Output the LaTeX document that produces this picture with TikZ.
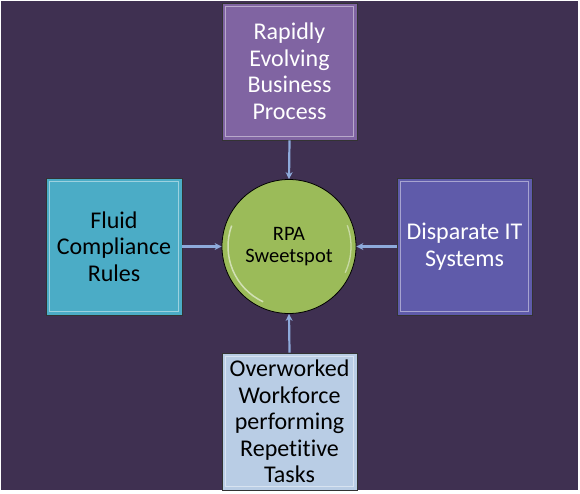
\documentclass[tikz,border=0pt]{standalone}
\usepackage{fontspec}
\setmainfont{Carlito}[Ligatures={NoCommon}]
\usetikzlibrary{arrows.meta}
\definecolor{bgc}{HTML}{3F3051}
\definecolor{topc}{HTML}{8064A2}
\definecolor{leftc}{HTML}{4BACC6}
\definecolor{rightc}{HTML}{5F5BAA}
\definecolor{botc}{HTML}{B9CDE5}
\definecolor{circc}{HTML}{9BBB59}
\definecolor{arrc}{HTML}{8EAADB}
\tikzset{
  box/.style={draw=black!80, line width=0.8pt, minimum width=135pt, minimum height=137pt,
    inner sep=2pt, align=center, font=\fontsize{24}{26.5}\selectfont},
  bevel/.style={draw=white, opacity=0.45, line width=1.6pt},
  hub/.style={circle, draw=black, line width=0.8pt, minimum size=134pt, fill=circc,
    align=center, font=\fontsize{20.5}{22}\selectfont},
  arr/.style={draw=arrc, line width=2.2pt, -{Stealth[length=7pt,width=7pt]}},
}
\begin{document}
\begin{tikzpicture}[x=1pt,y=-1pt]
\useasboundingbox (0,0) rectangle (580,493);
\fill[white] (0,0) rectangle (580,493);
\fill[bgc] (1,1) rectangle (578,490);
\node[box, fill=topc, text=white] (t) at (289.5,71.5) {Rapidly\\Evolving\\Business\\Process};
\node[box, fill=leftc, text=black, minimum width=136pt] (l) at (114,246.5) {Fluid\\Compliance\\Rules};
\node[box, fill=rightc, text=white] (r) at (464.5,246.5) {Disparate IT\\Systems};
\node[box, fill=botc, text=black] (b) at (289.5,421.5) {Overworked\\Workforce\\performing\\Repetitive\\Tasks};
\node[hub] (c) at (289,246.5) {RPA\\Sweetspot};
\foreach \n in {t,l,r,b}{
  \draw[bevel] ([shift={(4,4)}]\n.north west) rectangle ([shift={(-4,-4)}]\n.south east);
}
\draw[white, opacity=0.55, line width=1.5pt] ([shift={(115:61)}]c.center) arc[start angle=115, end angle=200, radius=61];
\draw[white, opacity=0.45, line width=1.3pt] ([shift={(-20:62)}]c.center) arc[start angle=-20, end angle=25, radius=62];
\draw[arr] (t.south) -- (c.north);
\draw[arr] (b.north) -- (c.south);
\draw[arr] (l.east) -- (c.west);
\draw[arr] (r.west) -- (c.east);
\end{tikzpicture}
\end{document}
